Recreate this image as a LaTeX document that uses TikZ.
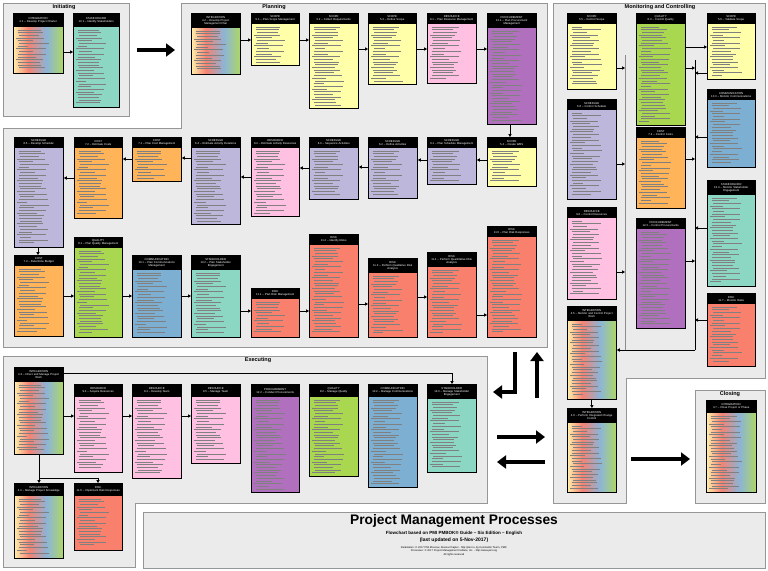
\documentclass[tikz,border=0pt]{standalone}
\usepackage{fontspec}
\setmainfont{Liberation Sans}
\usetikzlibrary{arrows.meta,calc}
\definecolor{cScope}{RGB}{255,255,170}
\definecolor{cSched}{RGB}{189,183,220}
\definecolor{cCost}{RGB}{255,180,90}
\definecolor{cQual}{RGB}{170,215,80}
\definecolor{cRes}{RGB}{255,192,225}
\definecolor{cComm}{RGB}{125,175,210}
\definecolor{cRisk}{RGB}{250,128,110}
\definecolor{cProc}{RGB}{176,112,190}
\definecolor{cStake}{RGB}{140,215,195}
\definecolor{cPanel}{RGB}{235,235,235}
\definecolor{cPanelLine}{RGB}{150,150,150}
\definecolor{intY}{RGB}{255,238,170}
\definecolor{intR}{RGB}{245,130,115}
\definecolor{intB}{RGB}{140,180,215}
\definecolor{intG}{RGB}{175,215,100}
\pgfdeclarehorizontalshading{integ}{100bp}{color(0bp)=(intY); color(25bp)=(intY); color(40bp)=(intR); color(58bp)=(intB); color(75bp)=(intG); color(100bp)=(intG)}
\tikzset{
  panel/.style={fill=cPanel, draw=cPanelLine, line width=0.8pt},
  plabel/.style={font=\fontsize{5.5pt}{6pt}\selectfont\bfseries, inner sep=0.5pt},
  pbody/.style={draw=black, line width=0.8pt, inner sep=0pt, rectangle},
  phead/.style={fill=black, text=white, inner sep=0.4pt, align=center, text width=44pt,
     font=\fontsize{2.8pt}{3.2pt}\selectfont},
  txtline/.style={draw=black!50, line width=0.35pt},
  sScope/.style={fill=cScope}, sSched/.style={fill=cSched}, sCost/.style={fill=cCost},
  sQual/.style={fill=cQual}, sRes/.style={fill=cRes}, sComm/.style={fill=cComm},
  sRisk/.style={fill=cRisk}, sProc/.style={fill=cProc}, sStake/.style={fill=cStake},
  sInteg/.style={shading=integ},
  conn/.style={draw=black, line width=0.9pt, -{Triangle[length=3pt,width=3.2pt]}},
  plain/.style={draw=black, line width=0.9pt},
  bigarr/.style={draw=black, line width=4.5pt, -{Triangle[length=9pt,width=13pt]}},
  ttl/.style={inner sep=0.3pt, align=center},
}
\newcommand\fakelines[4]{%
  \pgfmathtruncatemacro\fkN{((#3)-(#2))/2.7}%
  \foreach \k in {1,...,\fkN}{%
    \pgfmathsetmacro\fkY{#2+\k*2.7}%
    \pgfmathsetmacro\fkI{mod(\k,4)==0 ? 0 : (mod(\k,3)==0 ? 3 : 1.5)}%
    \pgfmathsetmacro\fkL{(0.2+0.4*abs(sin(\k*97+#1*3)))*(#4)}%
    \draw[txtline] ({#1+3+\fkI},\fkY) -- ++(\fkL,0);
  }%
}
% name, x, y, height, header height, fill style, header text, width
\newcommand\pmb[8]{%
  \node[pbody,#6,minimum width=#8pt,minimum height=#4pt,anchor=north west] (#1) at (#2,#3) {};
  \node[phead,minimum width=#8pt,minimum height=#5pt,anchor=north west] (#1h) at (#2,#3) {#7};
  \fakelines{#2}{#3+#5}{#3+#4-3}{#8}
}
\newcommand\rarr[3]{\draw[conn] (#1.east |- 0,#3) -- (#2.west |- 0,#3);}
\newcommand\larr[3]{\draw[conn] (#1.west |- 0,#3) -- (#2.east |- 0,#3);}
\begin{document}
\begin{tikzpicture}[x=1pt,y=-1pt]
\useasboundingbox (0,0) rectangle (768,570);
% ---------- panels
\draw[panel] (3,3) rectangle (129,116);
\node[plabel] (lInit) at (64,7) {Initiating};
\draw[panel] (181,3) -- (547,3) -- (547,347) -- (3,347) -- (3,128) -- (181,128) -- cycle;
\node[plabel] (lPlan) at (274,7) {Planning};
\draw[panel] (3,356) -- (487,356) -- (487,503) -- (135,503) -- (135,567) -- (3,567) -- cycle;
\node[plabel] (lExec) at (258,360) {Executing};
\draw[panel] (553,3) -- (765,3) -- (765,378) -- (626,378) -- (626,503) -- (553,503) -- cycle;
\node[plabel] (lMon) at (660,7) {Monitoring and Controlling};
\draw[panel] (695,390) rectangle (765,503);
\node[plabel] (lClose) at (730,394) {Closing};
\draw[panel] (143,512) rectangle (765,568);
% ---------- title
\node[ttl, font=\fontsize{13.8pt}{14pt}\selectfont\bfseries] (t1) at (454,521) {Project Management Processes};
\node[ttl, font=\fontsize{4.5pt}{5pt}\selectfont\bfseries] (t2) at (454,533.5) {Flowchart based on PMI PMBOK® Guide – Six Edition – English};
\node[ttl, font=\fontsize{5pt}{6pt}\selectfont\bfseries] (t3) at (454,540) {(last updated on 5-Nov-2017)};
\node[ttl, font=\fontsize{2.6pt}{3.6pt}\selectfont] (t4) at (454,551) {Realization: © 2017 PMI Moscow, Russia Chapter - http://pmi.ru, by Konstantin Tsurin, PMP,\\Processes: © 2017 Project Management Institute, Inc. - http://www.pmi.org\\All rights reserved};
% ---------- Initiating
\pmb{p41}{13}{13}{60}{14}{sInteg}{INTEGRATION\\4.1 – Develop Project Charter}{50}
\pmb{p131}{73}{13}{94}{14}{sStake}{STAKEHOLDER\\13.1 – Identify Stakeholders}{46}
\rarr{p41}{p131}{52}
% ---------- Planning row 1
\pmb{p42}{191}{13}{61}{15}{sInteg}{INTEGRATION\\4.2 – Develop Project\\Management Plan}{49}
\pmb{p51}{251}{13}{52}{11}{sScope}{SCOPE\\5.1 – Plan Scope Management}{48}
\pmb{p52}{309}{13}{95}{11}{sScope}{SCOPE\\5.2 – Collect Requirements}{49}
\pmb{p53}{368}{13}{71}{11}{sScope}{SCOPE\\5.3 – Define Scope}{48}
\pmb{p91}{427}{13}{70}{11}{sRes}{RESOURCE\\9.1 – Plan Resource Management}{49}
\pmb{p121}{487}{13}{111}{15}{sProc}{PROCUREMENT\\12.1 – Plan Procurement\\Management}{49}
\rarr{p42}{p51}{40}
\rarr{p51}{p52}{40}
\rarr{p52}{p53}{49}
\rarr{p53}{p91}{49}
\rarr{p91}{p121}{49}
% ---------- Planning row 2
\pmb{p54}{487}{137}{49}{11}{sScope}{SCOPE\\5.4 – Create WBS}{49}
\pmb{p61}{427}{137}{47}{11}{sSched}{SCHEDULE\\6.1 – Plan Schedule Management}{49}
\pmb{p62}{368}{137}{61}{11}{sSched}{SCHEDULE\\6.2 – Define Activities}{49}
\pmb{p63}{309}{137}{62}{11}{sSched}{SCHEDULE\\6.3 – Sequence Activities}{49}
\pmb{p92}{251}{137}{79}{11}{sRes}{RESOURCE\\9.2 – Estimate Activity Resources}{48}
\pmb{p64}{191}{137}{87}{11}{sSched}{SCHEDULE\\6.4 – Estimate Activity Durations}{49}
\pmb{p71}{132}{137}{44}{11}{sCost}{COST\\7.1 – Plan Cost Management}{49}
\pmb{p72}{74}{137}{81}{11}{sCost}{COST\\7.2 – Estimate Costs}{48}
\pmb{p65}{14}{137}{110}{11}{sSched}{SCHEDULE\\6.5 – Develop Schedule}{49}
\draw[conn] (p121.south -| 510,0) -- (p54.north -| 510,0);
\larr{p54}{p61}{160}
\larr{p61}{p62}{160}
\larr{p62}{p63}{167}
\larr{p63}{p92}{168}
\larr{p92}{p64}{177}
\larr{p64}{p71}{158}
\larr{p71}{p72}{159}
\larr{p72}{p65}{178}
% ---------- Planning row 3
\pmb{p73}{14}{255}{81}{11}{sCost}{COST\\7.3 – Determine Budget}{49}
\pmb{p81}{74}{237}{100}{11}{sQual}{QUALITY\\8.1 – Plan Quality Management}{48}
\pmb{p101}{132}{255}{82}{15}{sComm}{COMMUNICATION\\10.1 – Plan Communications\\Management}{49}
\pmb{p132}{191}{255}{82}{15}{sStake}{STAKEHOLDER\\13.2 – Plan Stakeholder\\Engagement}{49}
\pmb{p111}{251}{288}{49}{11}{sRisk}{RISK\\11.1 – Plan Risk Management}{48}
\pmb{p112}{309}{234}{103}{11}{sRisk}{RISK\\11.2 – Identify Risks}{49}
\pmb{p113}{368}{258}{79}{15}{sRisk}{RISK\\11.3 – Perform Qualitative Risk\\Analysis}{49}
\pmb{p114}{427}{252}{85}{15}{sRisk}{RISK\\11.4 – Perform Quantitative Risk\\Analysis}{49}
\pmb{p115}{487}{226}{111}{11}{sRisk}{RISK\\11.5 – Plan Risk Responses}{49}
\draw[conn] (p65.south -| 38,0) -- (p73.north -| 38,0);
\rarr{p73}{p81}{296}
\rarr{p81}{p101}{296}
\rarr{p101}{p132}{296}
\rarr{p132}{p111}{311}
\rarr{p111}{p112}{311}
\rarr{p112}{p113}{304}
\rarr{p113}{p114}{297}
\rarr{p114}{p115}{315}
% ---------- Executing
\pmb{p43}{14}{367}{87}{15}{sInteg}{INTEGRATION\\4.3 – Direct and Manage Project\\Work}{49}
\pmb{p93}{74}{384}{88}{13}{sRes}{RESOURCE\\9.3 – Acquire Resources}{48}
\pmb{p94}{132}{384}{94}{13}{sRes}{RESOURCE\\9.4 – Develop Team}{49}
\pmb{p95}{191}{384}{79}{13}{sRes}{RESOURCE\\9.5 – Manage Team}{49}
\pmb{p122}{251}{384}{108}{13}{sProc}{PROCUREMENT\\12.2 – Conduct Procurements}{48}
\pmb{p82}{309}{384}{92}{13}{sQual}{QUALITY\\8.2 – Manage Quality}{49}
\pmb{p102}{368}{384}{103}{13}{sComm}{COMMUNICATION\\10.2 – Manage Communications}{49}
\pmb{p133}{427}{384}{88}{15}{sStake}{STAKEHOLDER\\13.3 – Manage Stakeholder\\Engagement}{49}
\pmb{p44}{14}{483}{75}{13}{sInteg}{INTEGRATION\\4.4 – Manage Project Knowledge}{49}
\pmb{p116}{74}{483}{67}{13}{sRisk}{RISK\\11.6 – Implement Risk Responses}{48}
\rarr{p43}{p93}{416}
\rarr{p93}{p94}{416}
\rarr{p94}{p95}{416}
\coordinate (eTop) at (452,373);
\draw[plain] (p43.east |- eTop) -- (eTop);
\draw[conn] (eTop) -- (p133.north -| eTop);
\coordinate (eJoin) at (39,478);
\draw[conn] (p43.south -| eJoin) -- (p44.north -| eJoin);
\draw[conn] (eJoin) -| (p116.north -| 98,0);
% ---------- Monitoring and Controlling
\pmb{p55}{567}{13}{76}{11}{sScope}{SCOPE\\5.5 – Control Scope}{49}
\pmb{p83}{636}{13}{112}{11}{sQual}{QUALITY\\8.3 – Control Quality}{49}
\pmb{p56}{707}{13}{66}{11}{sScope}{SCOPE\\5.6 – Validate Scope}{48}
\pmb{p103}{707}{89}{78}{11}{sComm}{COMMUNICATION\\10.3 – Monitor Communications}{48}
\pmb{p66}{567}{99}{100}{11}{sSched}{SCHEDULE\\6.6 – Control Schedule}{49}
\pmb{p74}{636}{127}{81}{11}{sCost}{COST\\7.4 – Control Costs}{49}
\pmb{p134}{707}{180}{106}{15}{sStake}{STAKEHOLDER\\13.4 – Monitor Stakeholder\\Engagement}{48}
\pmb{p96}{567}{207}{92}{11}{sRes}{RESOURCE\\9.6 – Control Resources}{49}
\pmb{p123}{636}{218}{110}{11}{sProc}{PROCUREMENT\\12.3 – Control Procurements}{49}
\pmb{p117}{707}{293}{73}{11}{sRisk}{RISK\\11.7 – Monitor Risks}{48}
\pmb{p45}{567}{306}{93}{15}{sInteg}{INTEGRATION\\4.5 – Monitor and Control Project\\Work}{49}
\pmb{p46}{567}{408}{84}{15}{sInteg}{INTEGRATION\\4.6 – Perform Integrated Change\\Control}{49}
\draw[conn] (p45.south) -- (p46.north);
\coordinate (gT) at (625,55);
\coordinate (gB) at (625,350);
\coordinate (dT) at (695,60);
\coordinate (dB) at (695,350);
\draw[draw=black!45, line width=0.9pt] (gT) -- (gB);
\draw[plain] (dT) -- (dB);
\draw[conn] (dB) -- (p45.east |- dB);
\rarr{p55}{gT}{68}
\rarr{p66}{gT}{164}
\rarr{p96}{gT}{272}
\rarr{p83}{p56}{47}
\draw[conn] (p83.east |- 0,68) -- (dT |- 0,68);
\draw[conn] (p74.east |- 0,159) -- (dT |- 0,159);
\draw[conn] (p123.east |- 0,261) -- (dT |- 0,261);
\larr{p56}{dT}{73}
\larr{p103}{dT}{137}
\larr{p134}{dT}{228}
\larr{p117}{dT}{320}
% ---------- Closing
\pmb{p47}{706}{400}{92}{13}{sInteg}{INTEGRATION\\4.7 – Close Project or Phase}{50}
% ---------- big arrows
\draw[bigarr] (137,50) -- (175,50);
\draw[bigarr] (631,459) -- (690,459);
\draw[bigarr] (497,437) -- (545,437);
\draw[bigarr] (545,462) -- (497,462);
\draw[bigarr] (537,398) -- (537,352);
\draw[bigarr] (515,352) -- (515,392) -- (493,392);
\end{tikzpicture}
\end{document}
